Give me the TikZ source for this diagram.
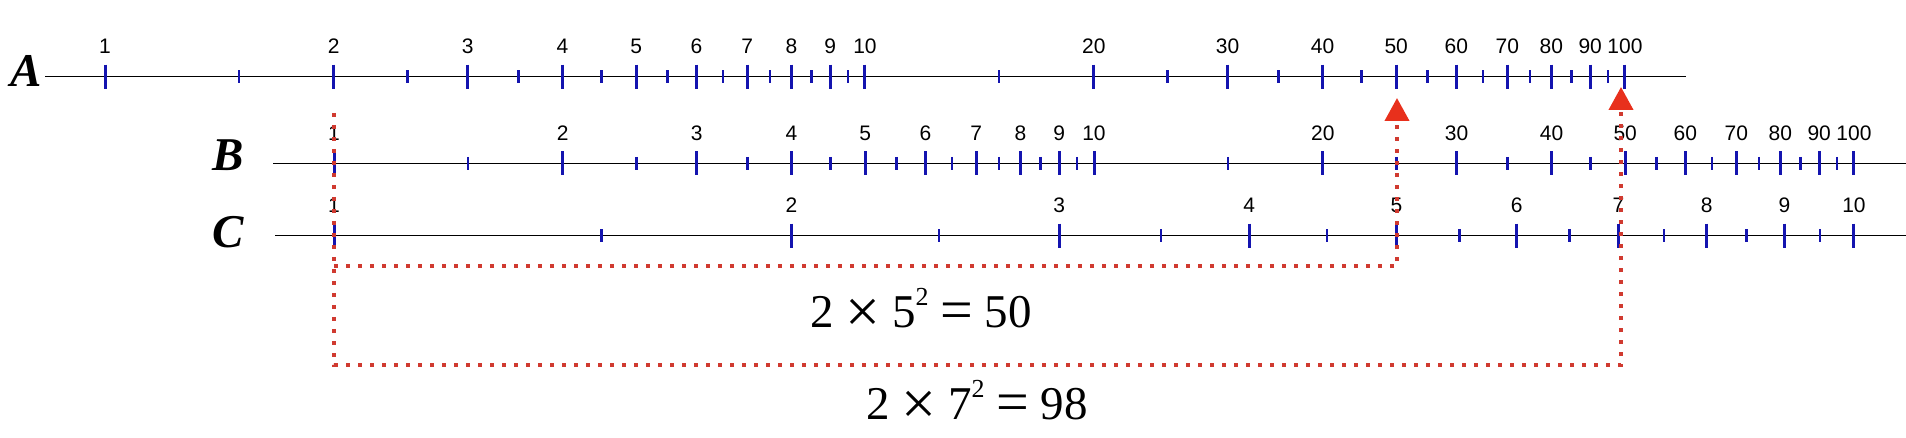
\documentclass[tikz,border=0pt]{standalone}
\usepackage{fontspec}
\setmainfont{Liberation Serif}
\newfontfamily\ticksfont{Liberation Sans}
\usetikzlibrary{arrows.meta}
\definecolor{tickblue}{RGB}{20,20,175}
\definecolor{dotred}{RGB}{208,58,48}
\definecolor{tipred}{RGB}{232,48,28}
\newcommand{\sqr}[1]{\raisebox{22pt}{\fontsize{26}{26}\selectfont #1}}
\newcommand{\tms}{\raisebox{-5pt}{\fontsize{62}{62}\selectfont ×}}
\newcommand{\eqs}{\raisebox{-2pt}{\fontsize{58}{58}\selectfont =}}

\begin{document}
\begin{tikzpicture}[x=1pt,y=-1pt,
    scaleline/.style={line width=1.3pt,black},
    majortick/.style={line width=3pt,tickblue},
    minortick/.style={line width=2.5pt,tickblue},
    ticklabel/.style={font=\ticksfont\fontsize{21}{24}\selectfont,inner sep=0pt},
    scalename/.style={font=\fontsize{47}{50}\selectfont\bfseries\itshape,inner sep=0pt},
    reading/.style={dotred,line width=4pt,dash pattern=on 4pt off 8pt,
        -{Triangle[length=23pt,width=24pt,color=tipred]}},
    equation/.style={font=\fontsize{47}{50}\selectfont,inner sep=0pt}]
    \useasboundingbox (0,0) rectangle (1906,438);

    % scale names and lines
    \node[scalename] (A) at (26,71) {A};
    \node[scalename] (B) at (228,155) {B};
    \node[scalename] (C) at (228,232) {C};
    \coordinate (A-left) at (45,76.7);
    \coordinate (A-right) at (1686,76.7);
    \coordinate (B-left) at (273,163.3);
    \coordinate (B-right) at (1906,163.3);
    \coordinate (C-left) at (275,235.7);
    \coordinate (C-right) at (1906,235.7);
    \draw[scaleline] (A-left) -- (A-right);
    \draw[scaleline] (B-left) -- (B-right);
    \draw[scaleline] (C-left) -- (C-right);

    % A scale: two decades
    \foreach \v in {1,2,3,4,5,6,7,8,9,10,20,30,40,50,60,70,80,90,100} {
        \pgfmathsetmacro\xa{105+760*log10(\v)}
        \draw[majortick] (\xa,64.7) -- (\xa,88.7);
        \node[ticklabel] (A-\v) at (\xa,46) {\v};
    }
    \foreach \v in {1.5,2.5,3.5,4.5,5.5,6.5,7.5,8.5,9.5,15,25,35,45,55,65,75,85,95}
        \draw[minortick] ({105+760*log10(\v)},70.2) -- ({105+760*log10(\v)},83.2);

    % B scale: two decades, slid by log 2
    \foreach \v in {1,2,3,4,5,6,7,8,9,10,20,30,40,50,60,70,80,90,100} {
        \pgfmathsetmacro\xb{334+760*log10(\v)}
        \draw[majortick] (\xb,151.3) -- (\xb,175.3);
        \node[ticklabel] (B-\v) at (\xb,133.3) {\v};
    }
    \foreach \v in {1.5,2.5,3.5,4.5,5.5,6.5,7.5,8.5,9.5,15,25,35,45,55,65,75,85,95}
        \draw[minortick] ({334+760*log10(\v)},156.8) -- ({334+760*log10(\v)},169.8);

    % C scale: one decade
    \foreach \v in {1,...,10} {
        \pgfmathsetmacro\xc{334+1520*log10(\v)}
        \draw[majortick] (\xc,223.7) -- (\xc,247.7);
        \node[ticklabel] (C-\v) at (\xc,205) {\v};
    }
    \foreach \v in {1.5,2.5,3.5,4.5,5.5,6.5,7.5,8.5,9.5}
        \draw[minortick] ({334+1520*log10(\v)},229.2) -- ({334+1520*log10(\v)},242.2);

    % readings
    \coordinate (from) at (334,113);
    \coordinate (split) at (334,266);
    \coordinate (low) at (334,365);
    \coordinate (tip50) at (1397,98);
    \coordinate (tip98) at (1621,87);
    \draw[reading] (split) -| (tip50);
    \draw[reading] (from) -- (low) -| (tip98);
    \node[equation] (sq5) at (921,310) {2 \tms{} 5\sqr{2} \eqs{} 50};
    \node[equation] (sq7) at (977,402) {2 \tms{} 7\sqr{2} \eqs{} 98};
\end{tikzpicture}
\end{document}
